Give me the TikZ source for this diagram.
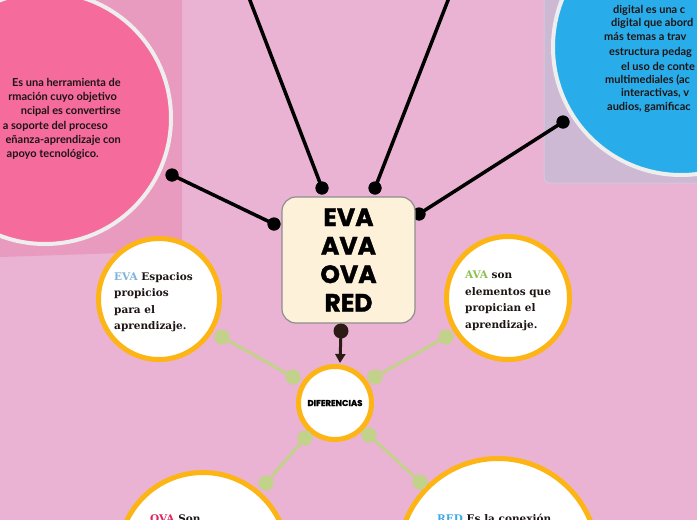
\documentclass[tikz,border=0pt]{standalone}
\usepackage{fontspec}
\setmainfont{Lato}
\newfontfamily\headfont{Poppins}[BoldFeatures={FakeBold=1.5}]
\newfontfamily\slabfont{DejaVu Serif}
\newfontfamily\handfont{Lato}
\usetikzlibrary{arrows.meta}
\definecolor{bgpink}{HTML}{EAB2D3}
\definecolor{panelpink}{HTML}{E89ABF}
\definecolor{panellav}{HTML}{CDB9D4}
\definecolor{panelline}{HTML}{D8C8DC}
\definecolor{pinkc}{HTML}{F46B9C}
\definecolor{bluec}{HTML}{29ADEA}
\definecolor{ringwhite}{HTML}{EEEEEE}
\definecolor{ringyellow}{HTML}{FDB515}
\definecolor{greenc}{HTML}{C3D28B}
\definecolor{cream}{HTML}{FDF1D9}
\definecolor{rectborder}{HTML}{8E8E8E}
\definecolor{brownc}{HTML}{2B1B14}
\definecolor{textdark}{HTML}{1E1414}
\definecolor{evablue}{HTML}{7FB2DA}
\definecolor{avagreen}{HTML}{8CC152}
\definecolor{ovared}{HTML}{E0245A}
\definecolor{redblue}{HTML}{3BAAE6}
\tikzset{
  bigcircle/.style={circle, draw=ringwhite, line width=4pt, inner sep=0pt},
  ringcircle/.style={circle, draw=ringyellow, line width=5pt, fill=white, inner sep=0pt},
  blackdot/.style={circle, fill=black, minimum size=13pt, inner sep=0pt},
  greendot/.style={circle, fill=greenc, minimum size=15pt, inner sep=0pt},
  blackline/.style={draw=black, line width=3.5pt},
  greenline/.style={draw=greenc, line width=3pt},
  handtext/.style={font=\handfont\bfseries\fontsize{11}{12}\selectfont, text=textdark, inner sep=0pt},
  slabtext/.style={font=\slabfont\bfseries\fontsize{10.5}{16.5}\selectfont, text=textdark, inner sep=0pt, align=left},
}
\begin{document}
\begin{tikzpicture}[x=1pt,y=-1pt]
\clip (0,0) rectangle (697,520);
\fill[bgpink] (0,0) rectangle (697,520);
% panels
\fill[panelpink] (0,0) -- (182,0) -- (182,251) -- (0,257) -- cycle;
\filldraw[fill=panellav, draw=panelline, line width=1pt, rounded corners=5pt] (544,-10) rectangle (710,183);
% black connectors (under dots)
\coordinate (topL) at (246,-10);
\coordinate (topR) at (452,-10);
\node[blackdot] (d1) at (322,188) {};
\node[blackdot] (d2) at (375,188) {};
\node[blackdot] (dL) at (274,224) {};
\node[blackdot] (dR) at (419,214) {};
\node[blackdot] (dP) at (172,175) {};
\node[blackdot] (dB) at (563,122) {};
\draw[blackline] (topL) -- (d1.center);
\draw[blackline] (topR) -- (d2.center);
\draw[blackline] (dL.center) -- (dP.center);
\draw[blackline] (dR.center) -- (dB.center);
% big circles
\node[bigcircle, fill=pinkc, minimum size=252pt] (pinkcircle) at (45,118) {};
\node[bigcircle, fill=bluec, minimum size=256pt] (bluecircle) at (681,47) {};
% redraw dots over the circles
\node[blackdot] (d1b) at (322,188) {};
\node[blackdot] (d2b) at (375,188) {};
\node[blackdot] (dLb) at (274,224) {};
\node[blackdot] (dRb) at (419,214) {};
\node[blackdot] (dPb) at (172,175) {};
\node[blackdot] (dBb) at (563,122) {};
% pink circle text
\node[handtext, anchor=east] (p1) at (121,82) {Es una herramienta de};
\node[handtext, anchor=east] (p2) at (117,97) {rmación cuyo objetivo};
\node[handtext, anchor=east] (p3) at (121,111) {ncipal es convertirse};
\node[handtext, anchor=east] (p4) at (108,126) {a soporte del proceso};
\node[handtext, anchor=east] (p5) at (121,140) {eñanza-aprendizaje con};
\node[handtext, anchor=east] (p6) at (99,154) {apoyo tecnológico.};
% blue circle text
\node[handtext, anchor=west] (b1) at (613,10) {digital es una c};
\node[handtext, anchor=west] (b2) at (611,23) {digital que abord};
\node[handtext, anchor=west] (b3) at (604,37) {más temas a trav};
\node[handtext, anchor=west] (b4) at (609,52) {estructura pedag};
\node[handtext, anchor=west] (b5) at (621,66) {el uso de conte};
\node[handtext, anchor=west] (b6) at (605,80) {multimediales (ac};
\node[handtext, anchor=west] (b7) at (621,93) {interactivas, v};
\node[handtext, anchor=west] (b8) at (607,107) {audios, gamificac};
% central node
\node[rectangle, rounded corners=14pt, draw=rectborder, line width=1.2pt, fill=cream,
      minimum width=133pt, minimum height=126pt, align=center, text=black,
      font=\headfont\bfseries\fontsize{25}{28.5}\selectfont] (center) at (348.5,260) {EVA\\AVA\\OVA\\RED};
% green connectors
\node[greendot] (g1a) at (293,377) {};
\node[greendot] (g1b) at (222,337) {};
\node[greendot] (g2a) at (375,377) {};
\node[greendot] (g2b) at (446,337) {};
\node[greendot] (g3a) at (305,438) {};
\node[greendot] (g3b) at (266,483) {};
\node[greendot] (g4a) at (369,435) {};
\node[greendot] (g4b) at (420,482) {};
\draw[greenline] (g1a.center) -- (g1b.center);
\draw[greenline] (g2a.center) -- (g2b.center);
\draw[greenline] (g3a.center) -- (g3b.center);
\draw[greenline] (g4a.center) -- (g4b.center);
% yellow ring circles
\node[ringcircle, minimum size=121pt] (eva) at (159,299) {};
\node[ringcircle, minimum size=123pt] (ava) at (508,298) {};
\node[ringcircle, minimum size=73pt, font=\headfont\bfseries\fontsize{8.5}{10}\selectfont, text=black] (dif) at (335,403) {DIFERENCIAS};
\node[ringcircle, minimum size=169pt] (ova) at (203,557) {};
\node[ringcircle, minimum size=199pt] (red) at (498,558) {};
% green dots on top
\node[greendot] (g1c) at (293,377) {};
\node[greendot] (g1d) at (222,337) {};
\node[greendot] (g2c) at (375,377) {};
\node[greendot] (g2d) at (446,337) {};
\node[greendot] (g3c) at (305,438) {};
\node[greendot] (g3d) at (266,483) {};
\node[greendot] (g4c) at (369,435) {};
\node[greendot] (g4d) at (420,482) {};
% brown arrow
\node[circle, fill=brownc, minimum size=15pt, inner sep=0pt] (bd) at (341,331) {};
\coordinate (arrtip) at (340,363);
\draw[draw=brownc, line width=3pt, -{Triangle[length=9pt,width=10pt]}] (bd.center) -- (arrtip);
% circle texts
\node[slabtext, anchor=north west] (evatext) at (114,272) {\textcolor{evablue}{EVA} Espacios\\propicios\\para el\\aprendizaje.};
\node[slabtext, anchor=north west] (avatext) at (465,271) {\textcolor{avagreen}{AVA} son\\elementos que\\propician el\\aprendizaje.};
\node[slabtext, anchor=base west] (ovatext) at (150,522) {\textcolor{ovared}{OVA} Son};
\node[slabtext, anchor=base west] (redtext) at (437,522) {\textcolor{redblue}{RED} Es la conexión};
\end{tikzpicture}
\end{document}
